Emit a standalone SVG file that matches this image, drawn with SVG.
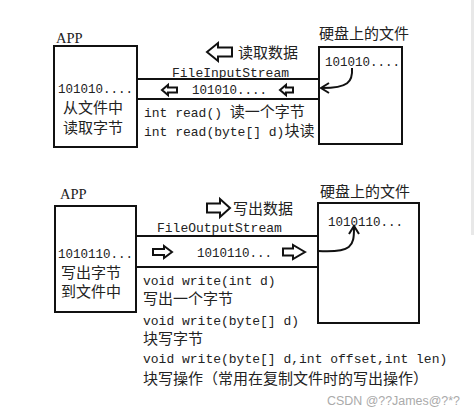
<svg xmlns="http://www.w3.org/2000/svg" width="474" height="413" viewBox="0 0 474 413">
<style>
.box{fill:#fff;stroke:#111;stroke-width:2}
.t{font-family:"Liberation Mono","Noto Sans CJK SC",monospace;font-size:13px;fill:#222}
.s{font-size:12.5px}
.a{font-family:"Liberation Serif","Noto Sans CJK SC",serif;font-size:14.5px;fill:#222}
.c{font-family:"Noto Sans CJK SC","Liberation Mono",sans-serif;font-size:15px;fill:#222}
.ha{fill:#fff;stroke:#111;stroke-width:2;stroke-linejoin:miter}
.cv{fill:none;stroke:#111;stroke-width:2}
.wm{font-family:"Liberation Sans",Arial,sans-serif;font-size:12.5px;fill:#aaa}
</style>
<rect width="474" height="413" fill="#fff"/>
<rect x="471" y="0" width="3" height="235" fill="#e8e8e8"/>

<g id="app-read">
<text class="a" x="56" y="42.5">APP</text>
<rect class="box" x="54" y="46" width="83" height="101"/>
<text class="t s" x="58" y="93">101010....</text>
<text class="c" x="63" y="113">从文件中</text>
<text class="c" x="63" y="132.5">读取字节</text>
</g>

<g id="stream-read">
<text class="t" x="172" y="76.5">FileInputStream</text>
<rect class="box" x="137" y="79" width="182" height="20"/>
<text class="t s" x="192" y="94">101010....</text>
<text class="t" x="144" y="116.5">int read() <tspan class="c">读一个字节</tspan></text>
<text class="t" x="144" y="135.5">int read(byte[] d)<tspan class="c">块读</tspan></text>
<text class="c" x="238" y="57.5">读取数据</text>
</g>

<g id="file-read">
<text class="c" x="319" y="38.5">硬盘上的文件</text>
<rect class="box" x="319" y="47" width="83" height="97"/>
<text class="t s" x="325" y="65.5">101010....</text>
</g>

<g id="app-write">
<text class="a" x="60" y="199">APP</text>
<rect class="box" x="55" y="206" width="81" height="106"/>
<text class="t s" x="58" y="257.5">1010110...</text>
<text class="c" x="61" y="277.5">写出字节</text>
<text class="c" x="61" y="296.5">到文件中</text>
</g>

<g id="stream-write">
<text class="t" x="157" y="231.5">FileOutputStream</text>
<rect class="box" x="136" y="236" width="182" height="31"/>
<text class="t s" x="197" y="256.5">1010110...</text>
<text class="c" x="233" y="213.5">写出数据</text>
<text class="t" x="143" y="285">void write(int d)</text>
<text class="c" x="143" y="304">写出一个字节</text>
<text class="t" x="143" y="324.5">void write(byte[] d)</text>
<text class="c" x="143" y="343.5">块写字节</text>
<text class="t" x="143" y="362.5">void write(byte[] d,int offset,int len)</text>
<text class="c" x="143" y="383.5">块写操作（常用在复制文件时的写出操作）</text>
</g>

<g id="file-write">
<text class="c" x="320" y="196.5">硬盘上的文件</text>
<rect class="box" x="318" y="203" width="101" height="120"/>
<text class="t s" x="328" y="225.5">1010110...</text>
</g>

<g id="connectors">
<polygon class="ha" points="207,52 218,43 218,47.5 232,47.5 232,56.5 218,56.5 218,61"/>
<polygon class="ha" points="162,90 168,85 168,87.5 177,87.5 177,92.5 168,92.5 168,95"/>
<polygon class="ha" points="280,90 286,85 286,87.5 293,87.5 293,92.5 286,92.5 286,95"/>
<path class="cv" d="M352,68 C353,82 348,88 322,88"/>
<path class="cv" d="M329,83 L321,88 L329,93"/>

<polygon class="ha" points="230,208 220,199 220,203.5 207,203.5 207,212.5 220,212.5 220,217"/>
<polygon class="ha" points="172,252 164,246 164,249 153,249 153,255 164,255 164,258"/>
<polygon class="ha" points="305,252 293,245 293,248.5 283,248.5 283,255.5 293,255.5 293,259"/>
<path class="cv" d="M318,251 C352,253 354,246 354,228"/>
<path class="cv" d="M349,234 L354,226 L359,234"/>
</g>

<text class="wm" x="327" y="405" textLength="133" lengthAdjust="spacingAndGlyphs">CSDN @??James@?*?</text>
</svg>
